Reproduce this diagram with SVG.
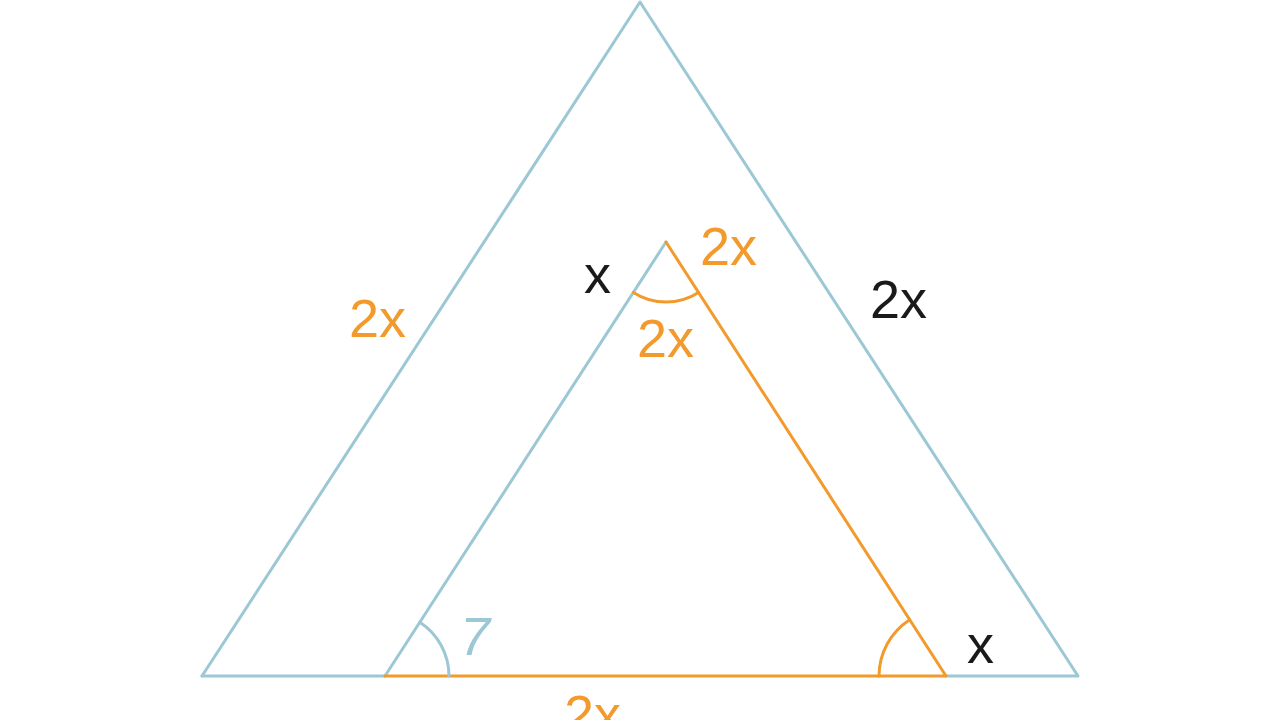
<svg xmlns="http://www.w3.org/2000/svg" width="1280" height="720" viewBox="0 0 1280 720">
<style>
.b{stroke:#9cc7d4;stroke-width:3;fill:none;stroke-linecap:round;stroke-linejoin:round}
.o{stroke:#f39a2c;stroke-width:3;fill:none;stroke-linecap:round;stroke-linejoin:round}
text{font-family:"Liberation Sans",Arial,sans-serif;font-size:54px}
.to{fill:#f39a2c}
.tk{fill:#1a1a1a}
.tb{fill:#9cc7d4}
</style>
<rect width="1280" height="720" fill="#ffffff"/>
<g id="outer-triangle">
<path class="b" d="M202,676 L640,2 L1078,676 L946,676"/>
<path class="b" d="M202,676 L385,676"/>
</g>
<g id="inner-triangle">
<path class="b" d="M385,676 L666,242"/>
<path class="o" d="M666,242 L946,676 L385,676"/>
</g>
<g id="angles">
<path class="o" d="M633.4,292.4 A60,60 0 0 0 698.5,292.4"/>
<path class="b" d="M419.8,622.3 A64,64 0 0 1 449,676"/>
<path class="o" d="M909.7,619.7 A67,67 0 0 0 879,676"/>
</g>
<g id="labels">
<text class="to" x="349" y="337">2x</text>
<text class="tk" x="584" y="293">x</text>
<text class="to" x="700" y="265">2x</text>
<text class="to" x="637" y="357">2x</text>
<text class="tk" x="870" y="318">2x</text>
<text class="tb" x="460" y="655" font-style="italic">7</text>
<text class="tk" x="967" y="663">x</text>
<text class="to" x="564" y="733">2x</text>
</g>
</svg>
